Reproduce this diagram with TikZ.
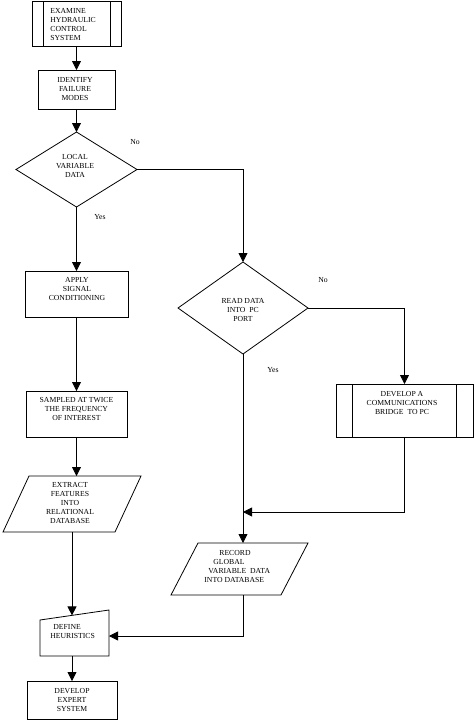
\documentclass[tikz,border=0pt]{standalone}
\usepackage{fontspec}
\setmainfont{Liberation Serif}
\usetikzlibrary{arrows.meta,shapes.geometric,calc}
\begin{document}
\begin{tikzpicture}[x=1pt,y=-1pt,line width=0.8pt,
  shp/.style={draw,inner sep=0pt,outer sep=0pt},
  ghost/.style={inner sep=0pt,outer sep=0pt},
  txt/.style={font=\fontsize{7.7}{9}\selectfont,align=center,inner sep=0pt},
  lbl/.style={font=\fontsize{7.7}{9}\selectfont,inner sep=0pt},
  arr/.style={-{Triangle[width=9pt,length=9pt]}}]
\useasboundingbox (0,0) rectangle (474,721);

% left column
\node[shp,minimum width=89pt,minimum height=45pt] (exam) at (76.5,23.5) {};
\draw ([xshift=11pt]exam.north west) -- ([xshift=11pt]exam.south west);
\draw ([xshift=-11pt]exam.north east) -- ([xshift=-11pt]exam.south east);
\node[txt,align=left,anchor=west] (t-exam) at (50,24.5) {EXAMINE\\HYDRAULIC\\CONTROL\\SYSTEM};

\node[shp,minimum width=77pt,minimum height=39pt] (ident) at (76.5,89.5) {};
\node[txt] (t-ident) at (75,89) {IDENTIFY\\FAILURE\\MODES};

\node[shp,diamond,minimum width=121pt,minimum height=75pt] (d1) at (76.5,169.5) {};
\node[txt] (t-d1) at (75,166) {LOCAL\\VARIABLE\\DATA};

\node[shp,minimum width=103pt,minimum height=46pt] (apply) at (76.5,294) {};
\node[txt] (t-apply) at (77,289) {APPLY\\SIGNAL\\CONDITIONING};

\node[shp,minimum width=101pt,minimum height=46pt] (samp) at (76.5,414) {};
\node[txt] (t-samp) at (76.5,409) {SAMPLED AT TWICE\\THE FREQUENCY\\OF INTEREST};

\node[ghost,minimum width=138pt,minimum height=56pt] (ext) at (72,504) {};
\draw ([xshift=26pt]ext.north west) -- (ext.north east) -- ([xshift=-26pt]ext.south east) -- (ext.south west) -- cycle;
\node[txt] (t-ext) at (70,503) {EXTRACT\\FEATURES\\INTO\\RELATIONAL\\DATABASE};

\node[ghost,minimum width=69pt,minimum height=46pt] (dh) at (74.5,633) {};
\draw (dh.south west) -- (dh.south east) -- (dh.north east) -- ([yshift=-10pt]dh.north west) -- cycle;
\node[txt,align=left,anchor=west] (t-dh) at (50,631.5) {\hspace*{3pt}DEFINE\\HEURISTICS};
\coordinate (dhtop) at (72,615.4);

\node[shp,minimum width=90pt,minimum height=38pt] (dev) at (72,700) {};
\node[txt] (t-dev) at (72,700) {DEVELOP\\EXPERT\\SYSTEM};

% right column
\node[shp,diamond,minimum width=130pt,minimum height=92pt] (d2) at (243,308) {};
\node[txt] (t-d2) at (243,310) {READ DATA\\INTO\ \ PC\\PORT};

\node[shp,minimum width=137pt,minimum height=53pt] (bridge) at (404.5,410.5) {};
\draw ([xshift=16pt]bridge.north west) -- ([xshift=16pt]bridge.south west);
\draw ([xshift=-17pt]bridge.north east) -- ([xshift=-17pt]bridge.south east);
\node[txt] (t-bridge) at (402,403) {DEVELOP A\\COMMUNICATIONS\\BRIDGE\ \ TO PC};

\node[ghost,minimum width=137pt,minimum height=52pt] (rec) at (239.5,569) {};
\draw ([xshift=27pt]rec.north west) -- (rec.north east) -- ([xshift=-27pt]rec.south east) -- (rec.south west) -- cycle;
\node[txt,align=left,anchor=west] (t-rec) at (204,566.5) {\hspace*{15pt}RECORD\\\hspace*{9pt}GLOBAL\\\hspace*{4pt}VARIABLE\ \ DATA\\INTO DATABASE};

\coordinate (junc) at (243,512);

% labels
\node[lbl] (no1) at (135,142) {No};
\node[lbl] (yes1) at (100,217) {Yes};
\node[lbl] (no2) at (323,280) {No};
\node[lbl] (yes2) at (273,370) {Yes};

% connectors
\draw[arr] (exam.south) -- (ident.north);
\draw[arr] (ident.south) -- (d1.north);
\draw[arr] (d1.south) -- (apply.north);
\draw[arr] (apply.south) -- (samp.north);
\draw[arr] (samp.south) -- (samp.south |- ext.north);
\draw[arr] (ext.south) -- (dhtop);
\draw[arr] (dh.south -| dev.north) -- (dev.north);
\draw[arr] (d1.east) -| (d2.north);
\draw[arr] (d2.east) -| (bridge.north);
\draw[arr] (bridge.south) |- (junc);
\draw[arr] (d2.south) -- (d2.south |- rec.north);
\draw[arr] (d2.south |- rec.south) |- ([yshift=-3pt]dh.east);
\end{tikzpicture}
\end{document}
